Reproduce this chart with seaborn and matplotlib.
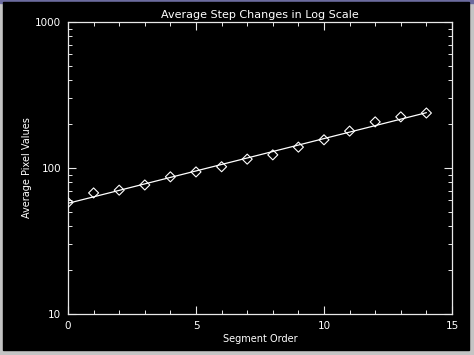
import numpy as np
import pandas as pd
import seaborn as sns
import matplotlib
matplotlib.use("Agg")
import matplotlib.pyplot as plt
from matplotlib.patches import Rectangle
from matplotlib.ticker import FixedLocator, NullFormatter

segment = [0, 1, 2, 3, 4, 5, 6, 7, 8, 9, 10, 11, 12, 13, 14]
pixel_values = [58, 67.5, 70.5, 76.5, 87, 94, 102, 115, 123, 139, 156, 179, 207, 224, 238]
title = "Average Step Changes in Log Scale"
xlabel = "Segment Order"
ylabel = "Average Pixel Values"
xticks = [0, 5, 10, 15]
yticks = [10, 100, 1000]

sns.set_theme(style="dark")
plt.rcParams['font.family'] = ['DejaVu Sans']

fig = plt.figure(figsize=(4.74, 3.55), dpi=100, facecolor="#c4c4c4")
fig.patches.append(Rectangle((0, 0), 1, 1, transform=fig.transFigure, color="#c4c4c4", zorder=-3))
fig.patches.append(Rectangle((0, 1 - 3/355), 1, 3/355, transform=fig.transFigure, color="#6b6b9e", zorder=-2))
fig.patches.append(Rectangle((3/474, 5/355), 466/474, 348/355, transform=fig.transFigure, color="black", zorder=-1))

ax = fig.add_axes([68/474, 41/355, 384/474, 292/355])
ax.set_facecolor("black")

df = pd.DataFrame({"x": segment, "y": pixel_values})
coef = np.polyfit(df["x"], np.log10(df["y"]), 1)
fit = pd.DataFrame({"x": [segment[0], segment[-1]]})
fit["y"] = 10 ** np.polyval(coef, fit["x"])

sns.lineplot(data=fit, x="x", y="y", ax=ax, color="white", linewidth=0.9)
sns.scatterplot(data=df, x="x", y="y", ax=ax, marker="D", s=26, facecolor="none",
                edgecolor="white", linewidth=0.8, zorder=3)

ax.set_yscale("log")
ax.set_xlim(0, 15)
ax.set_ylim(10, 1000)
ax.xaxis.set_major_locator(FixedLocator(xticks))
ax.xaxis.set_minor_locator(FixedLocator(range(0, 16)))
ax.yaxis.set_major_locator(FixedLocator(yticks))
ax.yaxis.set_minor_locator(FixedLocator([v * d for d in (10, 100) for v in range(2, 10)]))
ax.yaxis.set_minor_formatter(NullFormatter())
ax.set_yticklabels([str(v) for v in yticks])
ax.set_xticklabels([str(v) for v in xticks])

ax.grid(False)
for s in ax.spines.values():
    s.set_color("#e8e8e8")
    s.set_linewidth(0.9)
ax.tick_params(which="both", direction="in", colors="#e8e8e8", labelcolor="white",
               top=True, right=True, bottom=True, left=True, labelsize=7.5, pad=5)
ax.tick_params(which="major", length=6, width=0.8)
ax.tick_params(which="minor", length=3, width=0.7)

ax.set_title(title, color="white", fontsize=8, pad=3)
ax.set_xlabel(xlabel, color="white", fontsize=7, labelpad=2)
ax.set_ylabel(ylabel, color="white", fontsize=7, labelpad=2)

fig.savefig("out.png", dpi=100, facecolor=fig.get_facecolor())
